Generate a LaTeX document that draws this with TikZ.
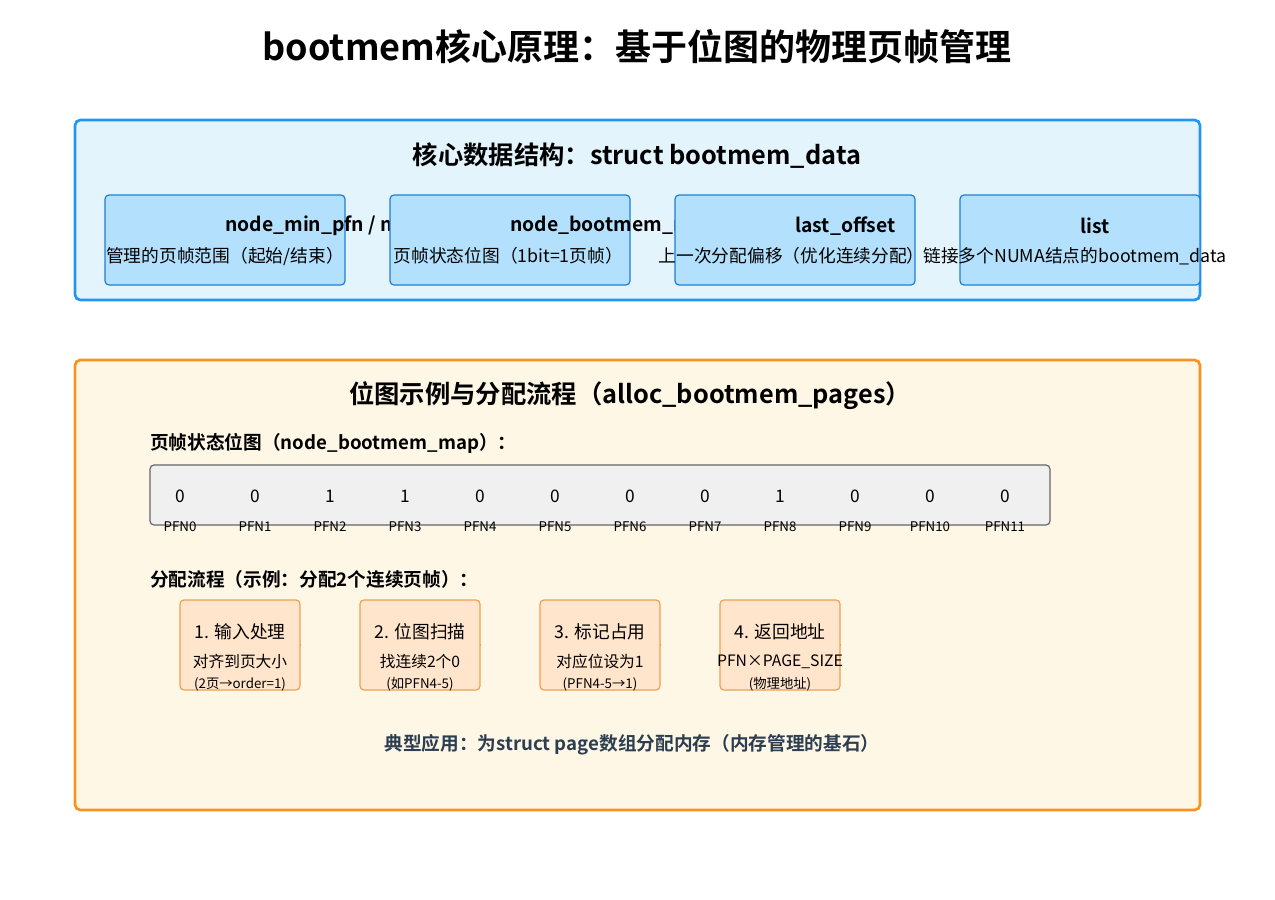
\documentclass[tikz,border=0pt]{standalone}
\usepackage{fontspec}
\setmainfont{Noto Sans CJK SC}[BoldFont={* Bold}]
\begin{document}
\begin{tikzpicture}[x=0.75pt,y=-0.75pt,
  outerA/.style={draw=blue1,fill=bluebg,line width=2pt,rounded corners=4pt},
  outerB/.style={draw=or1,fill=orbg,line width=2pt,rounded corners=4pt},
  fbox/.style={draw=blue2,fill=bluebox,line width=0.9pt,rounded corners=3pt},
  ftitle/.style={anchor=west,font=\fontsize{14.5}{16}\selectfont\bfseries,inner sep=0pt},
  fdesc/.style={font=\fontsize{13.3}{14}\selectfont,inner sep=0pt},
  bit/.style={font=\fontsize{13}{14}\selectfont,inner sep=0pt},
  pfn/.style={font=\fontsize{10}{11}\selectfont,inner sep=0pt},
  stepbox/.style={draw=or2,fill=orbox,line width=0.9pt,rounded corners=3pt},
  st1/.style={font=\fontsize{13.3}{14}\selectfont,inner sep=0pt},
  st2/.style={font=\fontsize{11.8}{13}\selectfont,inner sep=0pt},
  st3/.style={font=\fontsize{10}{11}\selectfont,inner sep=0pt}]
\definecolor{blue1}{HTML}{2196F3}\definecolor{bluebg}{HTML}{E3F4FD}
\definecolor{blue2}{HTML}{1E7FD8}\definecolor{bluebox}{HTML}{B3E0FD}
\definecolor{or1}{HTML}{F7931E}\definecolor{orbg}{HTML}{FFF7E6}
\definecolor{or2}{HTML}{F0A050}\definecolor{orbox}{HTML}{FFE5CC}
\definecolor{dk}{HTML}{2C3E50}
\useasboundingbox (0,0) rectangle (1275,900);
\node[font=\fontsize{27}{30}\selectfont\bfseries] (title) at (637,47) {bootmem核心原理：基于位图的物理页帧管理};
\draw[outerA] (75,120) rectangle (1200,300);
\node[font=\fontsize{19}{21}\selectfont\bfseries] (h1) at (637,156) {核心数据结构：struct bootmem\_data};
\foreach \i/\t/\d in {0/{node\_min\_pfn / max\_pfn}/{管理的页帧范围（起始/结束）},
  1/{node\_bootmem\_map}/{页帧状态位图（1bit=1页帧）},
  2/{last\_offset}/{上一次分配偏移（优化连续分配）},
  3/{list}/{链接多个NUMA结点的bootmem\_data}}{
  \draw[fbox] (105+285*\i,195) rectangle (345+285*\i,285);
  \coordinate (c\i) at (225+285*\i,226);
  \node[ftitle] (t\i) at (c\i) {\t};
  \node[fdesc] (d\i) at (225+285*\i-5*\i/3,256) {\d};
}
\draw[outerB] (75,360) rectangle (1200,810);
\node[font=\fontsize{19}{21}\selectfont\bfseries] (h2) at (630,396) {位图示例与分配流程（alloc\_bootmem\_pages）};
\node[anchor=west,inner sep=0pt,font=\fontsize{14}{16}\selectfont\bfseries] (bl) at (150,443) {页帧状态位图（node\_bootmem\_map）：};
\draw[draw=gray!80!black,fill=black!6,line width=0.9pt,rounded corners=3pt] (150,465) rectangle (1050,525);
\foreach \b [count=\i from 0] in {0,0,1,1,0,0,0,0,1,0,0,0}{
  \node[bit] (b\i) at (180+75*\i,496) {\b};
  \node[pfn] (p\i) at (180+75*\i,527) {PFN\i};
}
\node[anchor=west,inner sep=0pt,font=\fontsize{14}{16}\selectfont\bfseries] (fl) at (150,579) {分配流程（示例：分配2个连续页帧）：};
\foreach \i/\a/\b/\c in {0/{1. 输入处理}/{对齐到页大小}/{(2页→order=1)},
  1/{2. 位图扫描}/{找连续2个0}/{(如PFN4-5)},
  2/{3. 标记占用}/{对应位设为1}/{(PFN4-5→1)},
  3/{4. 返回地址}/{PFN×PAGE\_SIZE}/{(物理地址)}}{
  \draw[stepbox] (180+180*\i,600) rectangle (300+180*\i,690);
  \node[st1] (s\i) at (240+180*\i,632) {\a};
  \node[st2] (sd\i) at (240+180*\i,662) {\b};
  \node[st3] (ss\i) at (240+180*\i,684) {\c};
  \draw[or2,line width=0.9pt] (300+180*\i,645) -- (301+180*\i,645);
}
\node[font=\fontsize{14}{16}\selectfont\bfseries,text=dk] (foot) at (632,745) {典型应用：为struct page数组分配内存（内存管理的基石）};
\end{tikzpicture}
\end{document}
